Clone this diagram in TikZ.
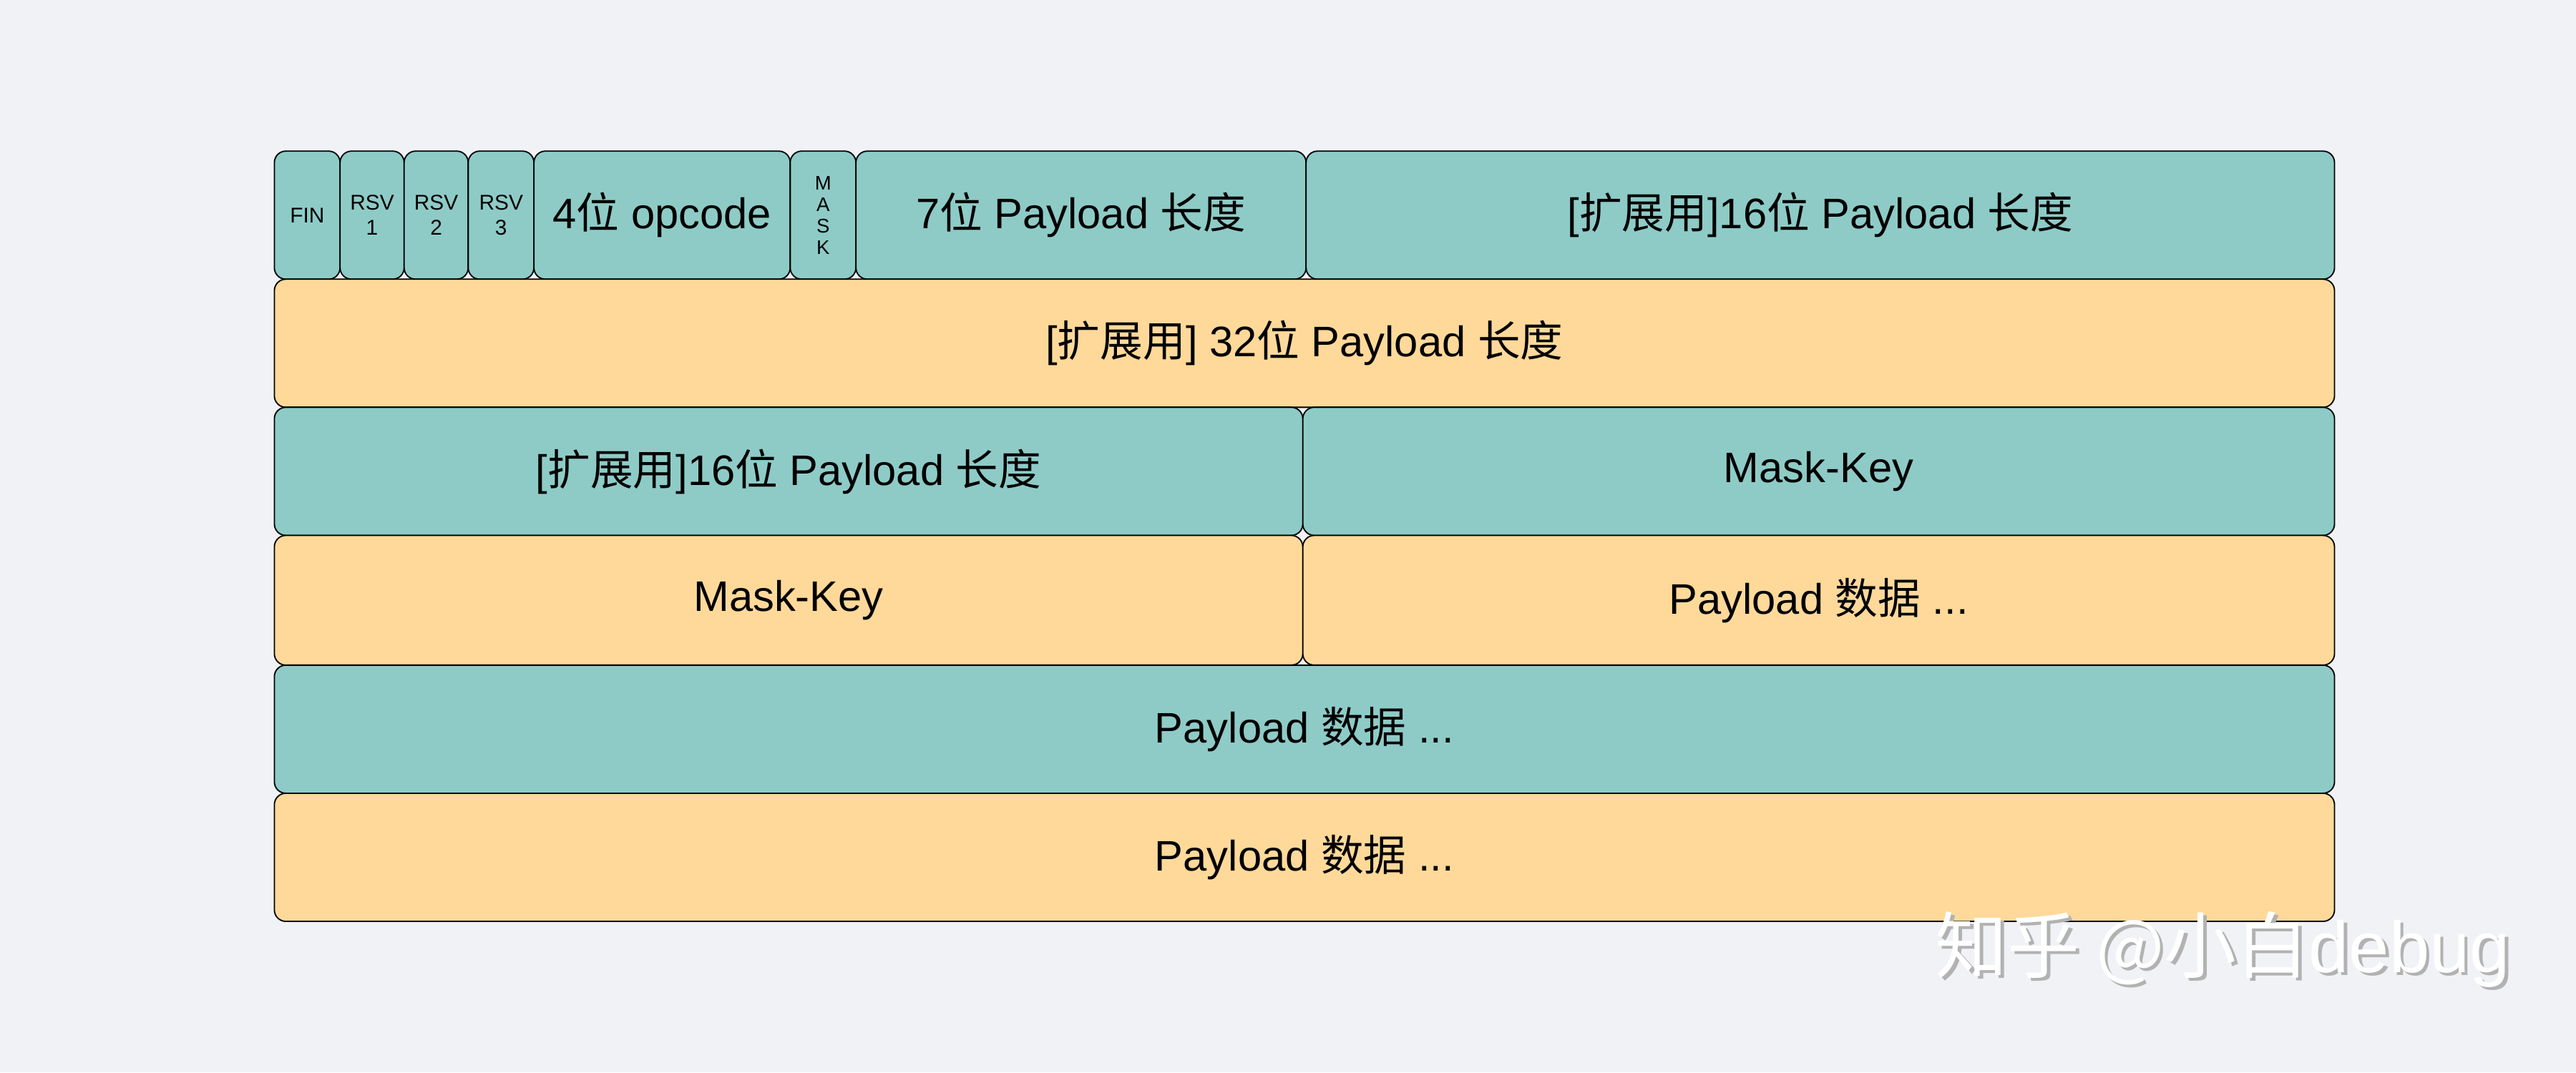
\documentclass[tikz,border=0pt]{standalone}
\usepackage{fontspec}
\setmainfont{Liberation Sans}
\newfontfamily\cjk{Noto Sans CJK SC}
\definecolor{bg}{HTML}{F0F2F5}
\definecolor{tealc}{HTML}{8ECBC7}
\definecolor{orgc}{HTML}{FFD99A}
\begin{document}
\begin{tikzpicture}[x=1pt,y=-1pt,
  cell/.style={draw=black,line width=0.8pt,rounded corners=7pt,inner sep=0pt,
    font=\fontsize{26}{30}\selectfont,align=center},
  sm/.style={font=\fontsize{13}{15}\selectfont},
  xs/.style={font=\fontsize{12}{13}\selectfont},
  tl/.style={cell,fill=tealc},
  og/.style={cell,fill=orgc}]
\fill[bg] (0,0) rectangle (1568,653);
\useasboundingbox (0,0) rectangle (1568,653);
% cell: style, name, x1, y1, x2, y2, text
\def\cellnode#1#2#3#4#5#6#7{%
  \pgfmathsetmacro\cw{#5-#3}\pgfmathsetmacro\ch{#6-#4}%
  \node[#1,minimum width=\cw pt,minimum height=\ch pt] (#2) at ({(#3+#5)/2},{(#4+#6)/2}) {#7};}
\cellnode{tl,sm}{fin}{167}{92}{207}{170}{FIN}
\cellnode{tl,sm}{rsva}{207}{92}{246}{170}{RSV\\1}
\cellnode{tl,sm}{rsvb}{246}{92}{285}{170}{RSV\\2}
\cellnode{tl,sm}{rsvc}{285}{92}{325}{170}{RSV\\3}
\cellnode{tl}{opc}{325}{92}{481}{170}{4{\cjk 位} opcode}
\cellnode{tl,xs}{mask}{481}{92}{521}{170}{M\\A\\S\\K}
\cellnode{tl}{plen}{521}{92}{795}{170}{7{\cjk 位} Payload {\cjk 长度}}
\cellnode{tl}{ext16a}{795}{92}{1421}{170}{[{\cjk 扩展用}]16{\cjk 位} Payload {\cjk 长度}}
\cellnode{og}{ext32}{167}{170}{1421}{248}{[{\cjk 扩展用}] 32{\cjk 位} Payload {\cjk 长度}}
\cellnode{tl}{ext16b}{167}{248}{793}{326}{[{\cjk 扩展用}]16{\cjk 位} Payload {\cjk 长度}}
\cellnode{tl}{mka}{793}{248}{1421}{326}{Mask-Key}
\cellnode{og}{mkb}{167}{326}{793}{405}{Mask-Key}
\cellnode{og}{pda}{793}{326}{1421}{405}{Payload {\cjk 数据} ...}
\cellnode{tl}{pdb}{167}{405}{1421}{483}{Payload {\cjk 数据} ...}
\cellnode{og}{pdc}{167}{483}{1421}{561}{Payload {\cjk 数据} ...}
\node[text=gray!60,font=\fontsize{44}{48}\selectfont,anchor=east,inner sep=0pt] (wm) at (1530,580) {{\cjk 知乎 @小白}debug};
\node[text=white,font=\fontsize{44}{48}\selectfont,anchor=east,inner sep=0pt] (wm2) at (1528,578) {{\cjk 知乎 @小白}debug};
\end{tikzpicture}
\end{document}
